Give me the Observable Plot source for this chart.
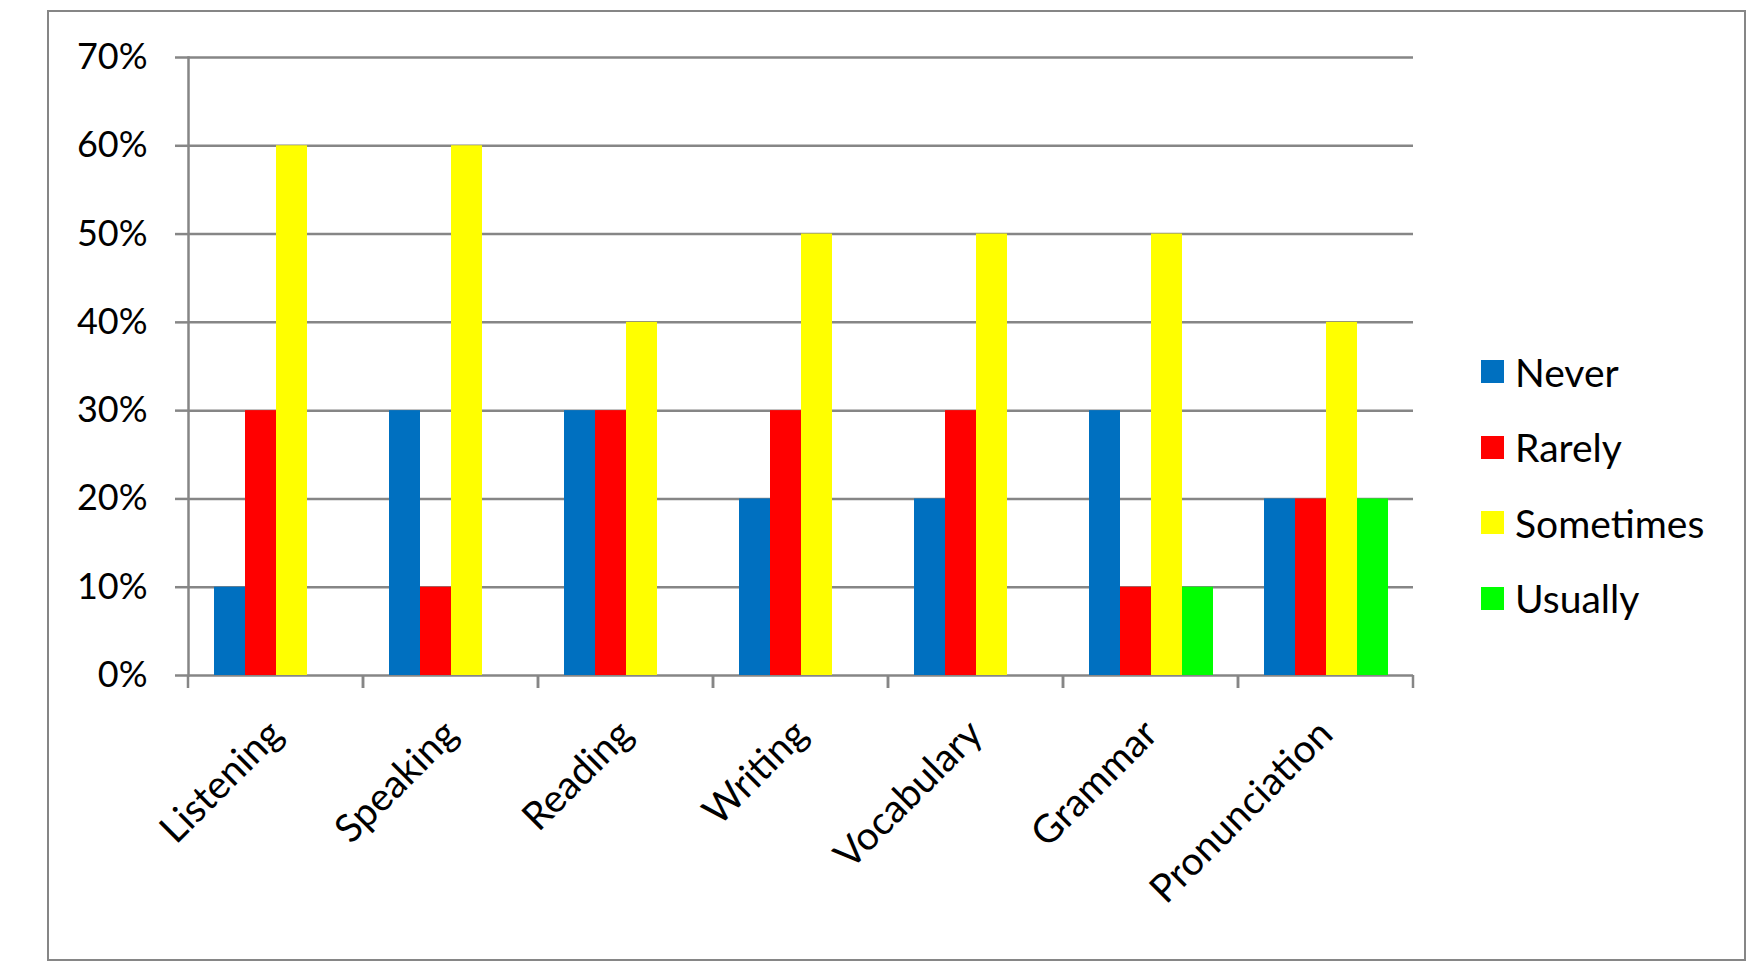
<!DOCTYPE html>
<html>
<head>
<meta charset="utf-8">
<script src="https://cdn.jsdelivr.net/npm/d3@7"></script>
<script src="https://cdn.jsdelivr.net/npm/@observablehq/plot@0.6"></script>
<style>
  html, body { margin: 0; padding: 0; background: #fff; }
  #wrap { position: relative; width: 1755px; height: 968px; font-family: Lato, "Open Sans", sans-serif; }
  #border { position: absolute; left: 47px; top: 10px; width: 1699px; height: 951px; border: 2.5px solid #868686; box-sizing: border-box; pointer-events: none; }
  #legend { position: absolute; left: 1481px; top: 334px; }
  .item { display: flex; align-items: center; height: 75.5px; font-size: 39px; color: #000; }
  .sw { width: 23px; height: 23px; margin-right: 11px; flex: none; }
  svg { display: block; }
</style>
</head>
<body>
<div id="wrap">
  <div id="chart"></div>
  <div id="legend"></div>
  <div id="border"></div>
</div>
<script>
const categories = ["Listening", "Speaking", "Reading", "Writing", "Vocabulary", "Grammar", "Pronunciation"];
const seriesNames = ["Never", "Rarely", "Sometimes", "Usually"];
const never     = [0.10, 0.30, 0.30, 0.20, 0.20, 0.30, 0.20];
const rarely    = [0.30, 0.10, 0.30, 0.30, 0.30, 0.10, 0.20];
const sometimes = [0.60, 0.60, 0.40, 0.50, 0.50, 0.50, 0.40];
const usually   = [0.00, 0.00, 0.00, 0.00, 0.00, 0.10, 0.20];
const seriesColors = ["#0070C0", "#FF0000", "#FFFF00", "#00FF00"];
const yTicks = [0, 0.1, 0.2, 0.3, 0.4, 0.5, 0.6, 0.7];

const valuesBySeries = [never, rarely, sometimes, usually];
const data = [];
categories.forEach((c, i) => {
  seriesNames.forEach((s, j) => {
    data.push({category: c, series: s, value: valuesBySeries[j][i]});
  });
});

const grey = "#868686";

// short ticks at the category boundaries, below the 0% line
const boundaryTicks = (index, scales, values, dims) => {
  const g = d3.create("svg:g");
  const y0 = scales.y(0);
  const xl = dims.marginLeft;
  const xr = dims.width - dims.marginRight;
  for (const x of [xl, xr]) {
    g.append("line")
      .attr("x1", x).attr("x2", x)
      .attr("y1", y0).attr("y2", y0 + 13)
      .attr("stroke", grey).attr("stroke-width", 2.5);
  }
  return g.node();
};

const chart = Plot.plot({
  width: 1755,
  height: 968,
  marginLeft: 186,
  marginRight: 340,
  marginTop: 57,
  marginBottom: 293,
  style: {fontFamily: "Lato, 'Open Sans', sans-serif", fontSize: "36px", color: "#000", background: "transparent", overflow: "visible"},
  fx: {domain: categories, padding: 0, label: null},
  x: {domain: seriesNames, paddingInner: 0, paddingOuter: 0.744, axis: null},
  y: {domain: [0, 0.7], label: null},
  color: {domain: seriesNames, range: seriesColors},
  marks: [
    Plot.gridY(yTicks, {stroke: grey, strokeWidth: 2.5, strokeOpacity: 1}),
    Plot.frame({anchor: "left", facetAnchor: "left", stroke: grey, strokeWidth: 2.5}),
    Plot.barY(data, {fx: "category", x: "series", y: "value", fill: "series"}),
    Plot.axisY(yTicks, {tickFormat: d3.format(".0%"), tickSize: 13, tickPadding: 28, stroke: grey, strokeWidth: 2.5, fill: "#000", fontSize: 36, label: null}),
    Plot.axisFx({anchor: "bottom", tickRotate: -45, tickSize: 0, tickPadding: 52, fontSize: 39, fill: "#000", label: null}),
    boundaryTicks
  ]
});
document.getElementById("chart").appendChild(chart);

const legend = d3.select("#legend");
seriesNames.forEach((s, j) => {
  const item = legend.append("div").attr("class", "item");
  item.append("div").attr("class", "sw").style("background", seriesColors[j]);
  item.append("span").text(s);
});
</script>
</body>
</html>
